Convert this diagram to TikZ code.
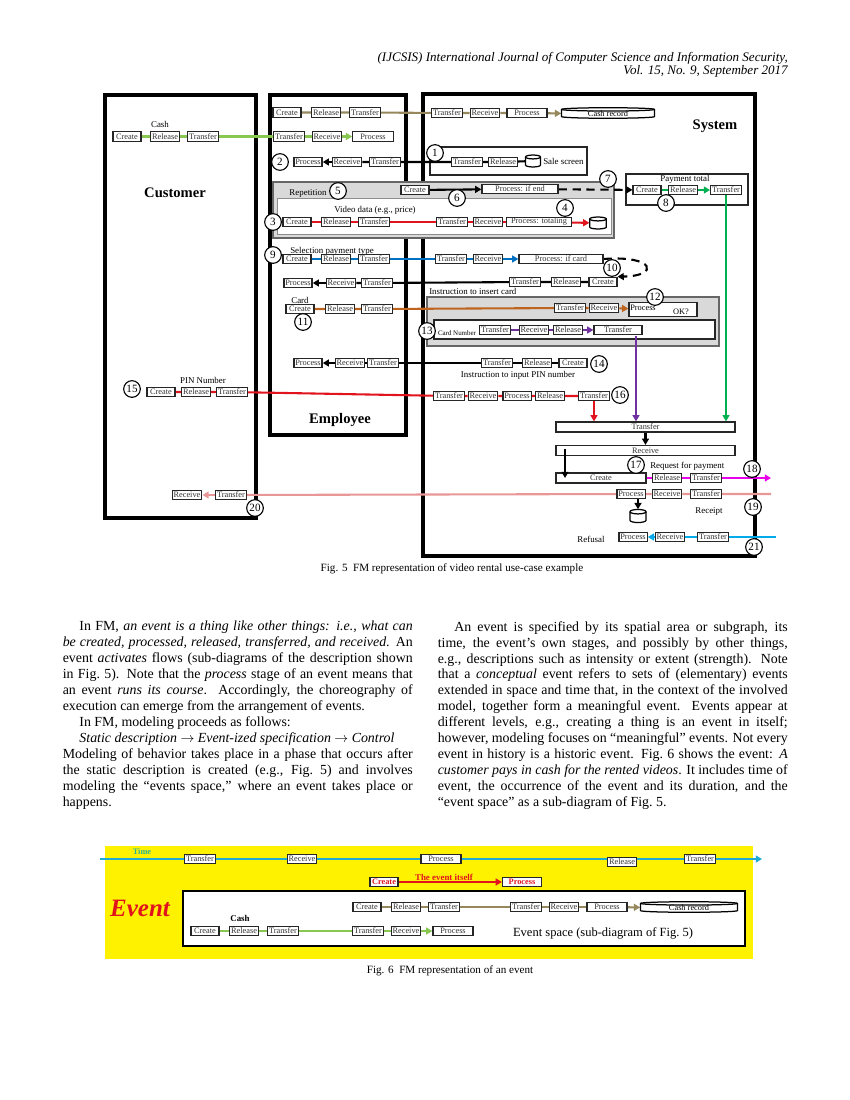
\documentclass[tikz,border=0pt]{standalone}
\usepackage{fontspec}
\setmainfont{Liberation Serif}
\usetikzlibrary{arrows.meta}
\pgfdeclarelayer{bg}
\pgfdeclarelayer{ln}
\pgfsetlayers{bg,ln,main}
\definecolor{olive2}{RGB}{150,136,92}
\definecolor{cashg}{RGB}{136,200,80}
\definecolor{payg}{RGB}{0,176,80}
\definecolor{redc}{RGB}{225,20,30}
\definecolor{bluec}{RGB}{0,112,192}
\definecolor{brownc}{RGB}{190,100,30}
\definecolor{purc}{RGB}{112,48,160}
\definecolor{magc}{RGB}{235,0,235}
\definecolor{pinkc}{RGB}{232,150,150}
\definecolor{cyanc}{RGB}{0,170,235}
\definecolor{timec}{RGB}{30,170,210}
\definecolor{timelbl}{RGB}{40,180,150}
\definecolor{grayf}{RGB}{217,217,217}
\newcommand\dbcyl[5]{%
  \begin{scope}[shift={(#1,#2)}]
    \draw[line width=0.9pt,fill=white] (-#3pt,#4pt-#5pt) -- (-#3pt,-#4pt+#5pt)
      arc[start angle=180,end angle=360,x radius=#3pt,y radius=#5pt]
      -- (#3pt,#4pt-#5pt)
      arc[start angle=0,end angle=180,x radius=#3pt,y radius=#5pt] -- cycle;
    \draw[line width=0.9pt] (-#3pt,#4pt-#5pt) arc[start angle=180,end angle=360,x radius=#3pt,y radius=#5pt];
  \end{scope}}
\tikzset{
 bx/.style={draw=black!85, line width=0.9pt, fill=white, inner xsep=1pt, inner ysep=0.2pt, minimum height=6.8pt, minimum width=20pt, font=\fontsize{6}{6}\selectfont, text=black!80},
 num/.style={circle, draw, line width=0.8pt, fill=white, minimum size=12pt, inner sep=0pt, font=\fontsize{8}{8}\selectfont},
 lbl/.style={inner sep=0pt, font=\fontsize{6.4}{7}\selectfont},
 ttl/.style={inner sep=0pt, font=\fontsize{10.5}{12}\bfseries\selectfont},
 bigframe/.style={line width=2.6pt},
 cn/.style={line width=1.5pt},
 ar/.style={cn, -{Triangle[length=4.5pt,width=5pt]}},
 gbox/.style={draw=black!60, line width=1pt, fill=grayf},
 sbox/.style={draw=black!85, line width=0.9pt, fill=white},
 txt/.style={text width=252pt, align=justify, inner sep=0pt, font=\fontsize{10}{11.5}\selectfont},
 hole/.style={inner sep=0pt, draw=none},
}
\begin{document}
\begin{tikzpicture}[x=0.72pt,y=-0.72pt]
\useasboundingbox (0,0) rectangle (850,1100);

% ---------- header ----------
\node[anchor=base east, inner sep=0, font=\fontsize{9.4}{11}\itshape\selectfont] (hdr1) at (788,62) {(IJCSIS) International Journal of Computer Science and Information Security,};
\node[anchor=base east, inner sep=0, font=\fontsize{9.4}{11}\itshape\selectfont] (hdr2) at (788,75) {Vol. 15, No. 9, September 2017};

% ---------- Fig. 5 frames ----------
\begin{pgfonlayer}{bg}
\draw[bigframe] (105,95) rectangle (256,518);
\draw[bigframe] (270,95) rectangle (406,435);
\draw[bigframe] (423,94) rectangle (755,556);
\draw[gbox] (273,182) rectangle (614,238);
\draw[draw=black!45, line width=0.6pt, fill=white] (277,198) rectangle (611,234);
\draw[sbox] (430,147) rectangle (587,175);
\draw[sbox] (626,174) rectangle (748,205);
\draw[gbox] (427,297) rectangle (719,346);
\draw[sbox] (434,320) rectangle (715,339);
\end{pgfonlayer}

\node[ttl] (tcust) at (175,193) {Customer};
\node[ttl] (temp) at (340,420) {Employee};
\node[ttl] (tsys) at (715,126) {System};

% row 1 (olive)
\node[bx] (EC1) at (287,112.5) {Create};
\node[bx] (ER1) at (326,112.5) {Release};
\node[bx] (ET1) at (365,112.5) {Transfer};
\node[bx] (ST1) at (447,113) {Transfer};
\node[bx] (SR1) at (485,113) {Receive};
\node[bx, minimum width=28.8pt] (SP1) at (527,113) {Process};
\dbcyl{608}{113}{33.5}{3.8}{1.2}
\node[hole, minimum width=67pt, minimum height=7.6pt, font=\fontsize{6}{6}\selectfont] (CR1) at (608,114) {Cash record};

% row 2 (cash, green)
\node[lbl] (lcash) at (160,124) {Cash};
\node[bx] (CC2) at (127,136.5) {Create};
\node[bx] (CR2) at (165,136.5) {Release};
\node[bx] (CT2) at (203,136.5) {Transfer};
\node[bx] (ET2) at (289,136.5) {Transfer};
\node[bx] (ER2) at (327,136.5) {Receive};
\node[bx, minimum width=29pt] (EP2) at (373,136.5) {Process};

% row 3 (sale screen, black)
\node[bx] (EP3) at (308,162) {Process};
\node[bx] (ER3) at (347,162) {Receive};
\node[bx] (ET3) at (385,162) {Transfer};
\node[bx] (ST3) at (467,162) {Transfer};
\node[bx] (SL3) at (503,162) {Release};
\dbcyl{533}{161}{5.4}{4.3}{1.4}
\node[hole, minimum width=10.8pt, minimum height=8.6pt] (SS) at (533,161) {};
\node[lbl, anchor=west] (lss) at (543,161) {Sale screen};

% repetition
\node[lbl] (lrep) at (308,194) {Repetition};
\node[bx] (SC5) at (415,190) {Create};
\node[bx, minimum width=54.7pt] (SPe) at (520,189) {Process: if end};
\node[lbl] (lpay) at (685,179) {Payment total};
\node[bx] (PCr) at (647,190) {Create};
\node[bx] (PRl) at (683,190) {Release};
\node[bx] (PTr) at (726,190) {Transfer};

% video data (red)
\node[lbl] (lvid) at (375,210) {Video data (e.g., price)};
\node[bx] (EC4) at (297,222) {Create};
\node[bx] (ER4) at (336,222) {Release};
\node[bx] (ET4) at (374,222) {Transfer};
\node[bx] (ST4) at (452,222) {Transfer};
\node[bx] (SR4) at (488,222) {Receive};
\node[bx, minimum width=46.8pt] (SPt) at (539,222) {Process: totaling};
\dbcyl{598}{223}{6}{4.3}{1.4}
\node[hole, minimum width=12pt, minimum height=8.6pt] (DB4) at (598,223) {};

% selection payment type (blue)
\node[lbl] (lsel) at (332,251) {Selection payment type};
\node[bx] (EC9) at (297,259) {Create};
\node[bx] (ER9) at (336,259) {Release};
\node[bx] (ET9) at (374,259) {Transfer};
\node[bx] (ST9) at (451,259) {Transfer};
\node[bx] (SR9) at (488,259) {Receive};
\node[bx, minimum width=60.5pt] (SPc) at (561,259) {Process: if card};

% instruction to insert card (black)
\node[bx] (EP10) at (298,283) {Process};
\node[bx] (ER10) at (341,283) {Receive};
\node[bx] (ET10) at (377,283) {Transfer};
\node[bx] (ST10) at (525,282) {Transfer};
\node[bx] (SL10) at (566,282) {Release};
\node[bx] (SC10) at (603,282) {Create};
\node[lbl, anchor=west] (lins) at (429,291) {Instruction to insert card};

% card (brown)
\node[lbl] (lcard) at (300,300) {Card};
\node[bx] (EC11) at (300,309) {Create};
\node[bx] (ER11) at (340,309) {Release};
\node[bx] (ET11) at (377,309) {Transfer};
\node[bx] (ST11) at (570,308) {Transfer};
\node[bx] (SR11) at (604,308) {Receive};
\node[bx, minimum width=49pt, minimum height=10pt] (SPok) at (663,309.5) {};
\node[inner sep=0pt, font=\fontsize{6}{6}\selectfont] (lpr) at (643,308) {Process};
\node[inner sep=0pt, font=\fontsize{6}{6}\selectfont] (lok) at (681,312) {OK?};

% card number (purple)
\node[inner sep=0pt, font=\fontsize{5}{5}\selectfont] (lcn) at (457,333) {Card Number};
\node[bx] (ST13) at (495,330) {Transfer};
\node[bx] (SR13) at (534,330) {Receive};
\node[bx] (SL13) at (568,330) {Release};
\node[bx, minimum width=34.6pt] (STx) at (618,330) {Transfer};
\coordinate (pv) at (636,336);

% instruction to input PIN (black)
\node[bx] (EP14) at (308,363) {Process};
\node[bx] (ER14) at (350,363) {Receive};
\node[bx] (ET14) at (383,363) {Transfer};
\node[bx] (ST14) at (497,363) {Transfer};
\node[bx] (SL14) at (537,363) {Release};
\node[bx] (SC14) at (573,363) {Create};
\node[lbl] (lpin2) at (518,375) {Instruction to input PIN number};

% PIN (red)
\node[lbl] (lpin) at (203,380) {PIN Number};
\node[bx] (CC15) at (161,392) {Create};
\node[bx] (CR15) at (196,392) {Release};
\node[bx] (CT15) at (232,392) {Transfer};
\node[bx] (ST16) at (449,396) {Transfer};
\node[bx] (SR16) at (483,396) {Receive};
\node[bx] (SP16) at (517,396) {Process};
\node[bx] (SL16) at (550,396) {Release};
\node[bx] (SX16) at (594,396) {Transfer};

% bars
\node[bx, minimum width=128.9pt, minimum height=7.2pt] (TB) at (645.5,427) {Transfer};
\node[bx, minimum width=128.9pt, minimum height=7.2pt] (RB) at (645.5,450.5) {Receive};
\node[bx, minimum width=64.8pt, minimum height=7.2pt] (CB) at (601,478) {Create};
\coordinate (rc1) at (565,449);

% request for payment (magenta)
\node[lbl, anchor=west] (lreq) at (650,466) {Request for payment};
\node[bx] (MRl) at (667,478) {Release};
\node[bx] (MTr) at (706,478) {Transfer};
\coordinate (m18) at (771,478);

% receipt (pink)
\node[bx] (RPr) at (631,494) {Process};
\node[bx] (RRc) at (667,494) {Receive};
\node[bx] (RTr) at (706,494) {Transfer};
\coordinate (p19) at (771,494);
\dbcyl{638}{516}{5.8}{4.7}{1.6}
\node[hole, minimum width=11.6pt, minimum height=9.4pt] (DB19) at (638,516) {};
\node[lbl] (lrec) at (709,511) {Receipt};
\node[bx] (CRc20) at (187,495) {Receive};
\node[bx] (CTr20) at (231,495) {Transfer};

% refusal (cyan)
\node[lbl] (lref) at (591,539) {Refusal};
\node[bx] (FPr) at (633,537) {Process};
\node[bx] (FRc) at (670,537) {Receive};
\node[bx] (FTr) at (713,537) {Transfer};
\coordinate (c21) at (776,537);

% connectors
\begin{pgfonlayer}{ln}
\draw[cn, olive2] (EC1) -- (ER1) -- (ET1) -- (ST1) -- (SR1) -- (SP1);
\draw[ar, olive2] (SP1) -- (CR1);
\draw[cn, cashg] (CC2) -- (CR2) -- (CT2) -- (ET2) -- (ER2);
\draw[ar, cashg] (ER2) -- (EP2);
\draw[cn] (SS) -- (SL3) -- (ST3) -- (ET3) -- (ER3);
\draw[ar] (ER3) -- (EP3);
\draw[ar] (SC5) -- (SPe);
\draw[ar, dash pattern=on 6pt off 4pt] (SPe) -- (PCr);
\draw[cn, payg] (PCr) -- (PRl);
\draw[ar, payg] (PRl) -- (PTr);
\draw[ar, payg] (PTr) -- (PTr |- TB.north);
\draw[cn, redc] (EC4) -- (ER4) -- (ET4) -- (ST4) -- (SR4) -- (SPt);
\draw[ar, redc] (SPt) -- (DB4);
\draw[cn, bluec] (EC9) -- (ER9) -- (ET9) -- (ST9) -- (SR9);
\draw[ar, bluec] (SR9) -- (SPc);
\draw[ar, dash pattern=on 6pt off 4pt] (SPc.east) .. controls (655,255) and (660,276) .. (SC10.north east);
\draw[cn] (SC10) -- (SL10) -- (ST10) -- (ET10) -- (ER10);
\draw[ar] (ER10) -- (EP10);
\draw[cn, brownc] (EC11) -- (ER11) -- (ET11) -- (ST11) -- (SR11);
\draw[ar, brownc] (SR11) -- (SPok);
\draw[cn, purc] (ST13) -- (SR13) -- (SL13);
\draw[ar, purc] (SL13) -- (STx);
\draw[ar, purc] (pv) -- (pv |- TB.north);
\draw[cn] (SC14) -- (SL14) -- (ST14) -- (ET14) -- (ER14);
\draw[ar] (ER14) -- (EP14);
\draw[cn, redc] (CC15) -- (CR15) -- (CT15) -- (ST16) -- (SR16) -- (SP16) -- (SL16) -- (SX16);
\draw[ar, redc] (SX16) -- (SX16 |- TB.north);
\draw[ar] (TB) -- (RB);
\draw[cn, magc] (CB) -- (MRl) -- (MTr);
\draw[ar, magc] (MTr) -- (m18);
\draw[cn, pinkc] (p19) -- (RTr) -- (RRc) -- (RPr) -- (CTr20);
\draw[ar, pinkc] (CTr20) -- (CRc20);
\draw[ar] (RPr.south -| DB19) -- (DB19.north);
\draw[cn, cyanc] (c21) -- (FTr) -- (FRc);
\draw[ar, cyanc] (FRc) -- (FPr);
\end{pgfonlayer}
\draw[ar] (rc1) -- (rc1 |- CB.center);

% numbered circles
\node[num] (N1) at (435,153) {1};
\node[num] (N2) at (280,162) {2};
\node[num] (N3) at (273,222) {3};
\node[num] (N4) at (565,208) {4};
\node[num] (N5) at (338,191) {5};
\node[num] (N6) at (457,198) {6};
\node[num] (N7) at (608,179) {7};
\node[num] (N8) at (666,203) {8};
\node[num] (N9) at (273,255) {9};
\node[num] (N10) at (612,268) {10};
\node[num] (N11) at (303,322) {11};
\node[num] (N12) at (655,297) {12};
\node[num] (N13) at (427,331) {13};
\node[num] (N14) at (599,364) {14};
\node[num] (N15) at (132,389) {15};
\node[num] (N16) at (620,395) {16};
\node[num] (N17) at (636,465) {17};
\node[num] (N18) at (752,469) {18};
\node[num] (N19) at (753,507) {19};
\node[num] (N20) at (255,508) {20};
\node[num] (N21) at (754,547) {21};

\node[inner sep=0pt, font=\fontsize{8}{9}\selectfont] (cap5) at (452,569) {Fig. 5~~FM representation of video rental use-case example};

% ---------- body text ----------
\node[txt, anchor=north west] (ltext) at (62.5,621) {%
\hspace*{12pt}In FM, \textit{an event is a thing like other things: i.e., what can}\linebreak
\textit{be created, processed, released, transferred, and received}. An\linebreak
event \textit{activates} flows (sub-diagrams of the description shown\linebreak
in Fig.~5). Note that the \textit{process} stage of an event means that\linebreak
an event \textit{runs its course}. Accordingly, the choreography of\linebreak
execution can emerge from the arrangement of events.\par
\hspace*{12pt}In FM, modeling proceeds as follows:\par
\hspace*{12pt}\textit{Static description $\rightarrow$ Event-ized specification $\rightarrow$ Control}\par
Modeling of behavior takes place in a phase that occurs after\linebreak
the static description is created (e.g., Fig.~5) and involves\linebreak
modeling the ``events space,'' where an event takes place or\linebreak
happens.};

\node[txt, anchor=north west] (rtext) at (437.5,621) {%
\hspace*{12pt}An event is specified by its spatial area or subgraph, its\linebreak
time, the event's own stages, and possibly by other things,\linebreak
e.g., descriptions such as intensity or extent (strength). Note\linebreak
that a \textit{conceptual} event refers to sets of (elementary) events\linebreak
extended in space and time that, in the context of the involved\linebreak
model, together form a meaningful event. Events appear at\linebreak
different levels, e.g., creating a thing is an event in itself;\linebreak
however, modeling focuses on ``meaningful'' events. Not every\linebreak
event in history is a historic event. Fig.~6 shows the event: \textit{A}\linebreak
\textit{customer pays in cash for the rented videos}. It includes time of\linebreak
event, the occurrence of the event and its duration, and the\linebreak
``event space'' as a sub-diagram of Fig.~5.};

% ---------- Fig. 6 ----------
\begin{pgfonlayer}{bg}
\fill[yellow] (105,846) rectangle (753,959);
\draw[line width=0.9pt, fill=white] (183,891) rectangle (745,946);
\end{pgfonlayer}
\coordinate (t0) at (100,859);
\coordinate (t1) at (762,859);
\node[inner sep=0pt, text=timelbl, font=\fontsize{6}{6}\bfseries\selectfont] (ltime) at (142,852) {Time};
\node[bx] (F6T1) at (200,859) {Transfer};
\node[bx] (F6R1) at (302,859) {Receive};
\node[bx, minimum width=28.8pt] (F6P1) at (441,859) {Process};
\node[bx] (F6Rl) at (622,862) {Release};
\node[bx] (F6T2) at (700,859) {Transfer};
\node[bx, text=redc, font=\fontsize{6}{6}\bfseries\selectfont] (F6C) at (384,882) {Create};
\node[bx, text=redc, font=\fontsize{6}{6}\bfseries\selectfont, minimum width=28pt] (F6P) at (522,882) {Process};
\node[inner sep=0pt, text=redc, font=\fontsize{6.4}{7}\bfseries\selectfont] (levt) at (444,877) {The event itself};
\node[inner sep=0pt, text=redc, font=\fontsize{18}{20}\bfseries\itshape\selectfont] (lEvent) at (140,908) {Event};

\node[bx] (G1C) at (367,907) {Create};
\node[bx] (G1R) at (406,907) {Release};
\node[bx] (G1T) at (444,907) {Transfer};
\node[bx] (G1T2) at (526,907) {Transfer};
\node[bx] (G1Rc) at (564,907) {Receive};
\node[bx, minimum width=28.8pt] (G1P) at (607,907) {Process};
\dbcyl{689}{907}{35}{3.8}{1.2}
\node[hole, minimum width=70pt, minimum height=7.6pt, font=\fontsize{6}{6}\selectfont] (G1CR) at (689,908) {Cash record};

\node[inner sep=0pt, font=\fontsize{6.4}{7}\bfseries\selectfont] (lcash6) at (240,918) {Cash};
\node[bx] (G2C) at (205,931) {Create};
\node[bx] (G2R) at (244,931) {Release};
\node[bx] (G2T) at (283,931) {Transfer};
\node[bx] (G2T2) at (368,931) {Transfer};
\node[bx] (G2Rc) at (406,931) {Receive};
\node[bx, minimum width=28.8pt] (G2P) at (453,931) {Process};
\node[inner sep=0pt, font=\fontsize{9}{10}\selectfont] (lspace) at (603,933) {Event space (sub-diagram of Fig.~5)};

\begin{pgfonlayer}{ln}
\draw[ar, timec] (t0) -- (t1);
\draw[ar, redc] (F6C) -- (F6P);
\draw[cn, olive2] (G1C) -- (G1R) -- (G1T) -- (G1T2) -- (G1Rc) -- (G1P);
\draw[ar, olive2] (G1P) -- (G1CR);
\draw[cn, cashg] (G2C) -- (G2R) -- (G2T) -- (G2T2) -- (G2Rc);
\draw[ar, cashg] (G2Rc) -- (G2P);
\end{pgfonlayer}

\node[inner sep=0pt, font=\fontsize{8}{9}\selectfont] (cap6) at (450,971) {Fig. 6~~FM representation of an event};
\end{tikzpicture}
\end{document}
